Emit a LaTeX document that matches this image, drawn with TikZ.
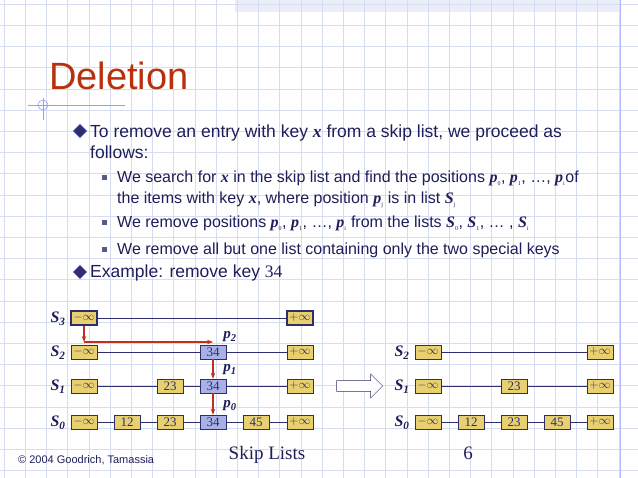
\documentclass[tikz,border=0pt]{standalone}
\usepackage{fontspec}
\setmainfont{Liberation Sans}
\newfontfamily\tms{Liberation Serif}
\usetikzlibrary{arrows.meta,shapes.arrows}
\definecolor{txt}{HTML}{1E1E5A}
\definecolor{ttl}{HTML}{B8300E}
\definecolor{grd}{HTML}{D6DCF2}
\definecolor{yel}{HTML}{E8D070}
\definecolor{blu}{HTML}{A8B0E6}
\definecolor{bd}{HTML}{2E2E6E}
\definecolor{rd}{HTML}{C0301E}
\newcommand{\mv}[2]{{\tms\bfseries\itshape #1}\textsubscript{\tms\fontsize{6}{6}\selectfont #2}}
\newcommand{\mx}{{\tms\bfseries\itshape x}}
\tikzset{
  key/.style={draw=bd,fill=yel,minimum width=26pt,minimum height=14pt,inner sep=0pt,font=\tms\fontsize{13}{13}\selectfont,text=bd},
  hkey/.style={key,fill=blu},
  tkey/.style={key,line width=2pt},
  lnk/.style={draw=bd,line width=0.8pt},
  srch/.style={draw=rd,line width=1.6pt,-{Stealth[length=6pt]}},
  slab/.style={font=\tms\bfseries\itshape\fontsize{16}{16}\selectfont,text=txt},
  plab/.style={font=\tms\bfseries\itshape\fontsize{15}{15}\selectfont,text=txt},
  body/.style={anchor=base west,text=txt,inner sep=0pt},
  dia/.style={fill=bd,rotate=45,minimum size=10pt,inner sep=0pt,draw=blue!40,line width=0.6pt},
}
\begin{document}
\begin{tikzpicture}[x=1pt,y=-1pt]
\useasboundingbox (0,0) rectangle (638,478);
\fill[white] (0,0) rectangle (638,478);
\fill[grd!50] (235,0) rectangle (620,12);
\foreach \i in {0,...,30} \draw[grd,line width=0.5pt] (\i*21.2+4,0) -- (\i*21.2+4,478);
\foreach \i in {0,...,23} \draw[grd,line width=0.5pt] (0,\i*21.2+4) -- (638,\i*21.2+4);
\draw[grd!60!blue!60,line width=0.5pt] (620,0) -- (620,478);
% title
\node[anchor=base west,inner sep=0pt,text=ttl,font=\fontsize{38}{38}\selectfont] (title) at (49,90) {Deletion};
\draw[blue!40,line width=0.6pt] (28,105) -- (125,105);
\draw[blue!40,line width=0.6pt] (43,98) -- (43,120);
\draw[blue!40,line width=0.6pt] (43,105) circle (5);
% bullets
\node[dia] (d1) at (80,131) {};
\node[body,font=\fontsize{17.5}{17.5}\selectfont] (b1) at (90,138) {To remove an entry with key \mx{} from a skip list, we proceed as};
\node[body,font=\fontsize{17.5}{17.5}\selectfont] (b1b) at (90,159) {follows:};
\foreach \yy/\nm in {178/s1,223/s2,250/s3} \node[fill=bd!80,minimum size=5pt,inner sep=0pt] (\nm) at (104,\yy) {};
\node[body,font=\fontsize{16}{16}\selectfont] (t1) at (117,183) {We search for \mx{} in the skip list and find the positions \mv{p}{0}, \mv{p}{1}, \dots, \mv{p}{i}of};
\node[body,font=\fontsize{16}{16}\selectfont] (t1b) at (117,204) {the items with key \mx, where position \mv{p}{j} is in list \mv{S}{j}};
\node[body,font=\fontsize{16}{16}\selectfont] (t2) at (117,228) {We remove positions \mv{p}{0}, \mv{p}{1}, \dots, \mv{p}{i} from the lists \mv{S}{0}, \mv{S}{1}, \dots{} , \mv{S}{i}};
\node[body,font=\fontsize{16}{16}\selectfont] (t3) at (117,255) {We remove all but one list containing only the two special keys};
\node[dia] (d2) at (80,272) {};
\node[body,font=\fontsize{17.5}{17.5}\selectfont] (b2) at (90,278) {Example: remove key {\tms 34}};
% left lists
\node[slab] (L3) at (58,319) {S\textsubscript{3}};
\node[slab] (L2) at (58,353) {S\textsubscript{2}};
\node[slab] (L1) at (58,387) {S\textsubscript{1}};
\node[slab] (L0) at (58,423) {S\textsubscript{0}};
\node[tkey] (a3m) at (84,318) {$-\infty$};
\node[tkey] (a3p) at (300,318) {$+\infty$};
\node[key] (a2m) at (84,352) {$-\infty$};
\node[hkey] (a234) at (213,352) {34};
\node[key] (a2p) at (300,352) {$+\infty$};
\node[key] (a1m) at (84,386) {$-\infty$};
\node[key] (a123) at (170,386) {23};
\node[hkey] (a134) at (213,386) {34};
\node[key] (a1p) at (300,386) {$+\infty$};
\node[key] (a0m) at (84,422) {$-\infty$};
\node[key] (a012) at (127,422) {12};
\node[key] (a023) at (170,422) {23};
\node[hkey] (a034) at (213,422) {34};
\node[key] (a045) at (256,422) {45};
\node[key] (a0p) at (300,422) {$+\infty$};
\draw[lnk] (a3m) -- (a3p);
\draw[lnk] (a2m) -- (a234) -- (a2p);
\draw[lnk] (a1m) -- (a123) -- (a134) -- (a1p);
\draw[lnk] (a0m) -- (a012) -- (a023) -- (a034) -- (a045) -- (a0p);
\coordinate (c1) at (84,342);
\coordinate (c2) at (213,342);
\draw[srch] (a3m.south) -- (c1);
\draw[srch] (c1) -- (c2);
\draw[srch] (a234) -- (a134);
\draw[srch] (a134) -- (a034);
\node[plab] (p2) at (230,337) {p\textsubscript{2}};
\node[plab] (p1) at (230,370) {p\textsubscript{1}};
\node[plab] (p0) at (230,406) {p\textsubscript{0}};
% arrow
\node[single arrow,draw=bd,fill=white,minimum height=46pt,minimum width=24pt,single arrow head extend=4pt,inner sep=3pt] (arr) at (357,386) {};
% right lists
\node[slab] (R2) at (402,353) {S\textsubscript{2}};
\node[slab] (R1) at (402,387) {S\textsubscript{1}};
\node[slab] (R0) at (402,423) {S\textsubscript{0}};
\node[key] (b2m) at (428,352) {$-\infty$};
\node[key] (b2p) at (600,352) {$+\infty$};
\node[key] (b1m) at (428,386) {$-\infty$};
\node[key] (b123) at (514,386) {23};
\node[key] (b1p) at (600,386) {$+\infty$};
\node[key] (b0m) at (428,422) {$-\infty$};
\node[key] (b012) at (471,422) {12};
\node[key] (b023) at (514,422) {23};
\node[key] (b045) at (557,422) {45};
\node[key] (b0p) at (600,422) {$+\infty$};
\draw[lnk] (b2m) -- (b2p);
\draw[lnk] (b1m) -- (b123) -- (b1p);
\draw[lnk] (b0m) -- (b012) -- (b023) -- (b045) -- (b0p);
% footer
\node[body,font=\fontsize{11}{11}\selectfont] (cp) at (18,464) {\textcopyright{} 2004 Goodrich, Tamassia};
\node[anchor=base,inner sep=0pt,text=txt,font=\tms\fontsize{19}{19}\selectfont] (sl) at (267,460) {Skip Lists};
\node[anchor=base,inner sep=0pt,text=txt,font=\tms\fontsize{19}{19}\selectfont] (pg) at (468,460) {6};
\end{tikzpicture}
\end{document}
